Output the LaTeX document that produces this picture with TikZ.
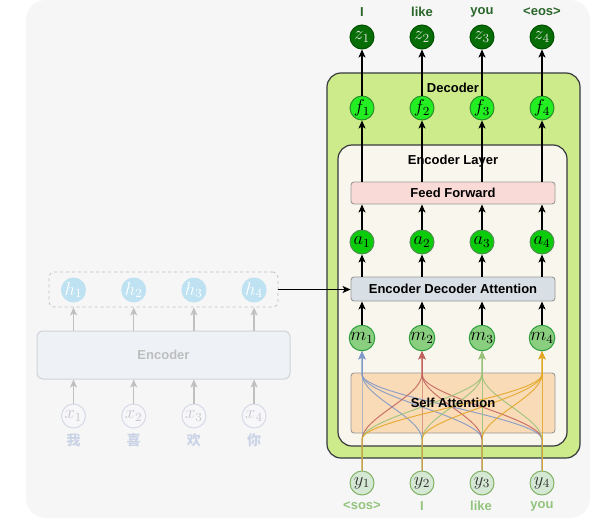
\documentclass[tikz,border=0pt]{standalone}
\usepackage{graphicx}
\usepackage{fontspec}
\setmainfont{Liberation Sans}
\newfontfamily\cjk{Noto Sans CJK SC}
\usetikzlibrary{arrows.meta}
\definecolor{bggray}{HTML}{F6F6F6}
\definecolor{decfill}{HTML}{CDEB8B}
\definecolor{darkline}{HTML}{36393D}
\definecolor{layfill}{HTML}{F9F7ED}
\definecolor{fffill}{HTML}{FADAD6}
\definecolor{edafill}{HTML}{D8DFE5}
\definecolor{safill}{HTML}{FADBB8}
\definecolor{boxline}{HTML}{999999}
\definecolor{zfill}{HTML}{076E07}
\definecolor{zline}{HTML}{005000}
\definecolor{ffill}{HTML}{22EE22}
\definecolor{fline}{HTML}{2A8F2A}
\definecolor{afill}{HTML}{0ACC0A}
\definecolor{aline}{HTML}{4F8F4F}
\definecolor{mfill}{HTML}{8ACF80}
\definecolor{mline}{HTML}{2E9E3E}
\definecolor{yfill}{HTML}{D5E8D4}
\definecolor{yline}{HTML}{82B366}
\definecolor{toplab}{HTML}{2A662A}
\definecolor{botlab}{HTML}{93C47D}
\definecolor{hfill}{HTML}{BFE2F2}
\definecolor{xfill}{HTML}{F7F7F9}
\definecolor{xline}{HTML}{D6DAE6}
\definecolor{xtext}{HTML}{C6C8CE}
\definecolor{cjkcol}{HTML}{CBD4E6}
\definecolor{encfill}{HTML}{EEF2F7}
\definecolor{encline}{HTML}{D0D3D8}
\definecolor{enctext}{HTML}{BDBDBD}
\definecolor{grayarrow}{HTML}{C0C0C0}
\definecolor{cblue}{HTML}{7E98C8}
\definecolor{cred}{HTML}{C0605C}
\definecolor{cgreen}{HTML}{97C177}
\definecolor{corange}{HTML}{E2A622}
\newcommand{\mlab}[1]{\scalebox{1.55}{$#1$}}
\begin{document}
\begin{tikzpicture}[x=1pt,y=-1pt,
  lab/.style={font=\fontsize{13}{15}\selectfont\bfseries},
  circ/.style={circle,inner sep=0pt,minimum size=24pt,line width=1pt,font=\fontsize{12}{12}\selectfont},
  znode/.style={circ,fill=zfill,draw=zline,text=white!88!black},
  fnode/.style={circ,fill=ffill,draw=fline},
  anode/.style={circ,fill=afill,draw=aline},
  mnode/.style={circ,fill=mfill,draw=mline},
  ynode/.style={circ,fill=yfill,draw=yline,text=black!80},
  hnode/.style={circ,fill=hfill,draw=hfill,text=white},
  xnode/.style={circ,fill=xfill,draw=xline,text=xtext},
  bigbox/.style={draw=darkline,line width=1.2pt,rounded corners=14pt,inner sep=0pt},
  bar/.style={draw=boxline,line width=0.9pt,rounded corners=3pt,inner sep=0pt,minimum width=204pt},
  tip/.style={-{Stealth[length=8pt,width=7pt,inset=2pt]}},
  blk/.style={tip,line width=1.3pt,black},
  gry/.style={tip,line width=1.3pt,grayarrow},
  saedge/.style={tip,line width=1pt,opacity=0.85}
]
\useasboundingbox (0,0) rectangle (609,530);
\fill[white] (0,0) rectangle (609,530);
\fill[bggray,rounded corners=20pt] (26,0) rectangle (590,518);

% right side containers
\node[bigbox,fill=decfill,minimum width=253pt,minimum height=385pt] (dec) at (453.5,265.5) {};
\node[bigbox,fill=layfill,minimum width=229pt,minimum height=301pt] (layer) at (452.5,295.5) {};
\node[lab] (declab) at (453,88) {Decoder};
\node[lab] (laylab) at (453,161) {Encoder Layer};
\node[bar,fill=fffill,minimum height=22pt,lab] (ff) at (453,193) {Feed Forward};
\node[bar,fill=edafill,minimum height=24pt,lab] (eda) at (453,289) {Encoder Decoder Attention};
\node[bar,fill=safill,minimum height=60pt] (sa) at (453,403) {};

% right side nodes
\foreach \i/\xx in {1/362,2/422,3/482,4/542} {
  \node[znode] (z\i) at (\xx,37) {\mlab{z_\i}};
  \node[fnode] (f\i) at (\xx,108) {\mlab{f_\i}};
  \node[anode] (a\i) at (\xx,242) {\mlab{a_\i}};
  \node[mnode] (m\i) at (\xx,338) {\mlab{m_\i}};
  \node[ynode] (y\i) at (\xx,483) {\mlab{y_\i}};
}
\node[lab,text=toplab] (t1) at (362,12) {I};
\node[lab,text=toplab] (t2) at (422,12) {like};
\node[lab,text=toplab] (t3) at (482,12) {you};
\node[lab,text=toplab] (t4) at (542,12) {<eos>};
\node[lab,text=botlab] (b1) at (362,506) {<sos>};
\node[lab,text=botlab] (b2) at (422,506) {I};
\node[lab,text=botlab] (b3) at (481,506) {like};
\node[lab,text=botlab] (b4) at (542,506) {you};

% self attention edges
\foreach \i/\c in {1/cblue,2/cred,3/cgreen,4/corange} {
  \foreach \j in {1,...,4} {
    \draw[saedge,draw=\c] (y\j.north) -- ++(0,-31)
      .. controls +(0,-22) and +(0,22) .. ([yshift=-23pt]m\i.south) -- (m\i.south);
  }
}
\node[lab] (salab) at (453,403) {Self Attention};

% black arrows
\foreach \i in {1,...,4} {
  \draw[blk] (f\i.north) -- (z\i.south);
  \draw[blk] (ff.north -| f\i) -- (f\i.south);
  \draw[blk] (a\i.north) -- (a\i |- ff.south);
  \draw[blk] (eda.north -| a\i) -- (a\i.south);
  \draw[blk] (m\i.north) -- (m\i |- eda.south);
}

% left side (faded encoder)
\node[draw=grayarrow,dashed,line width=0.8pt,rounded corners=5pt,minimum width=229pt,minimum height=35pt] (hbox) at (163.5,289.5) {};
\node[draw=encline,fill=encfill,line width=1pt,rounded corners=6pt,minimum width=253pt,minimum height=48pt,lab,text=enctext] (enc) at (163.5,355) {Encoder};
\foreach \i/\xx/\ch in {1/73.5/我,2/133.7/喜,3/193.9/欢,4/254.1/你} {
  \node[hnode] (h\i) at (\xx,290) {\mlab{h_\i}};
  \node[xnode] (x\i) at (\xx,416) {\mlab{x_\i}};
  \node[text=cjkcol,font=\cjk\bfseries\fontsize{14}{16}\selectfont] (c\i) at (\xx,440) {\ch};
  \draw[gry] (x\i.north) -- (x\i |- enc.south);
  \draw[gry] (enc.north -| h\i) -- (h\i |- hbox.south);
}
\draw[blk] (hbox.east) -- (hbox.east -| eda.west);
\end{tikzpicture}
\end{document}
